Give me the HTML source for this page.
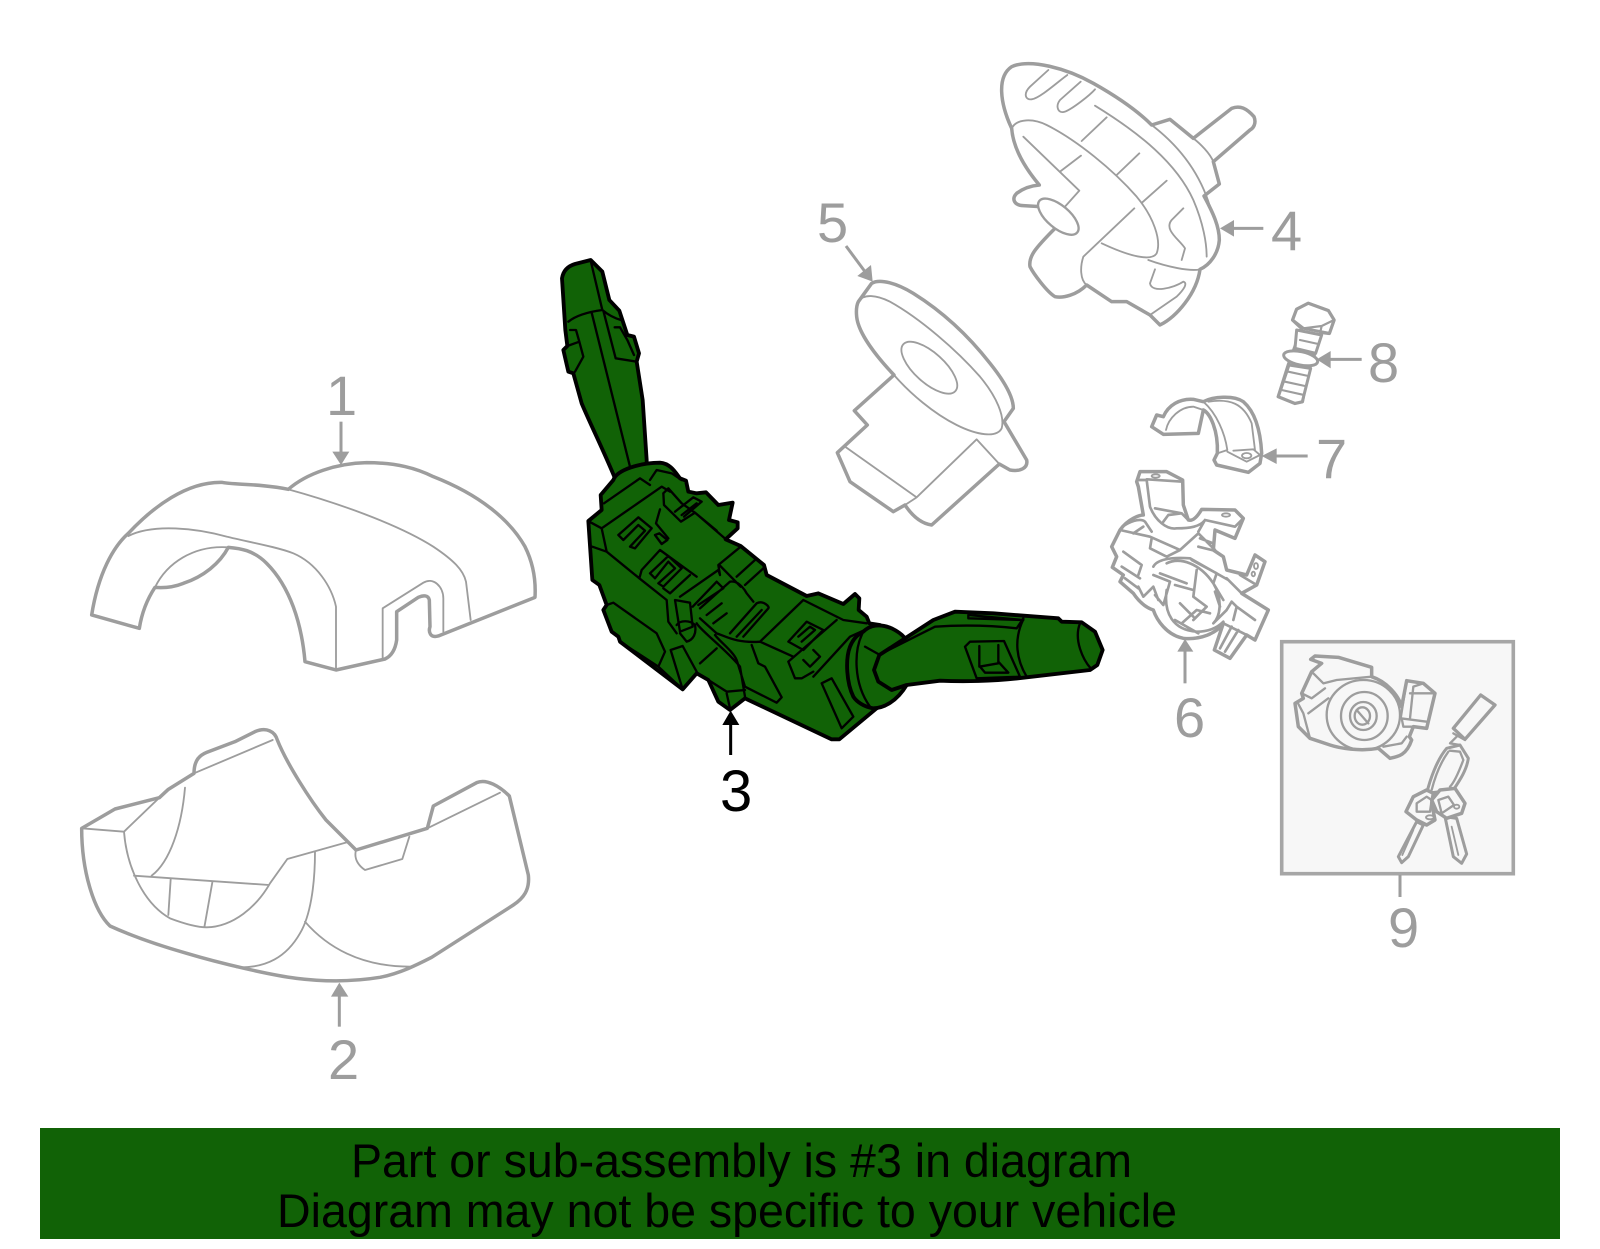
<!DOCTYPE html>
<html><head><meta charset="utf-8"><style>
html,body{margin:0;padding:0;background:#fff}
svg{display:block}
.g path,.g ellipse,.g polygon{stroke:#9d9d9d;fill:none;stroke-linejoin:round;stroke-linecap:round}
.g .o{stroke-width:10.5;fill:#fff}
.g .t{stroke-width:5.5}
.g .a{fill:#9d9d9d;stroke:none}
.g .l{stroke-width:9;stroke-linecap:butt}
.k path,.k ellipse,.k polygon{stroke:#000;fill:none;stroke-linejoin:round;stroke-linecap:round}
.k .o{stroke-width:11.5;fill:#116206}
.k .t{stroke-width:7}
text{font-family:"Liberation Sans",Arial,sans-serif}
.n{font-size:56px;fill:#9d9d9d}
</style></head><body>
<svg width="1600" height="1249" viewBox="0 0 1600 1249" xmlns="http://www.w3.org/2000/svg">
<rect width="1600" height="1249" fill="#fff"/>

<!-- 1 -->
<g class="g" transform="translate(80,360) scale(.33333)">
<path class="l" d="M783 185V280"/><polygon class="a" points="783,315 757,275 808,275"/>
<path class="o" d="M35 765C55 640 100 560 145 520C220 440 320 365 425 367C460 375 540 370 625 388C680 340 770 310 860 308C950 308 1010 325 1060 350C1200 405 1290 480 1335 560C1360 610 1368 660 1365 712L1075 828C1050 835 1045 815 1050 800L1048 720C1045 705 1030 705 1015 712L950 755L950 840C945 875 930 890 915 897L768 930L675 905C665 790 630 680 560 610C520 570 480 565 445 562C420 610 370 650 310 670C280 682 250 684 225 682C200 720 185 760 178 805Z"/>
<path class="t" d="M145 528C220 490 350 505 440 530C500 545 590 560 640 580C710 610 755 680 768 740L768 930M625 388C760 425 950 490 1060 560C1120 600 1150 630 1158 665L1172 780M225 682C260 610 340 555 445 562M908 895L908 745L1030 668C1060 650 1090 680 1090 715L1090 815"/>
</g>

<!-- 2 -->
<g class="g" transform="translate(70,720) scale(.33333)">
<path class="l" d="M808 920V825"/><polygon class="a" points="808,788 783,830 835,830"/>
<path class="o" d="M35 325L135 267L268 233L295 208L372 160C372 120 390 105 410 97L495 65L555 35C590 20 615 35 622 60C650 130 720 240 768 300L858 390L1072 325L1090 258L1220 188C1250 175 1290 200 1318 228L1375 465C1380 510 1360 535 1330 555L1085 712C1040 735 990 760 930 772C850 785 760 785 680 775C600 765 450 730 350 700C280 680 190 650 120 618C70 570 35 450 35 325Z"/>
<path class="t" d="M35 325L162 335L268 233M162 335C170 440 220 550 300 595C340 610 380 622 410 622C490 620 560 560 600 490L652 417L830 367M372 160L608 60M192 467L597 495M345 203C335 320 300 425 245 467M302 478L295 585M427 487L403 622M735 395C735 500 720 590 690 640C650 710 590 745 500 742M705 605C770 680 870 740 1020 740M858 390C850 420 870 440 885 450L997 417L1018 350M1072 325L1290 218"/>
</g>

<!-- 4 -->
<g class="g" transform="translate(980,40) scale(.33333)">
<path class="l" d="M850 565H755"/><polygon class="a" points="720,565 762,540 762,590"/>
<path class="o" d="M95 265C60 190 50 110 95 80C150 55 260 85 340 130C420 175 480 220 515 255L570 238L640 295L755 205C780 195 800 205 822 230C830 250 820 265 810 270L700 365L718 432L672 468C700 520 718 560 718 600C715 640 690 675 660 688C650 760 590 830 540 855L510 825L440 785L395 785L320 735C290 765 250 775 225 770C200 755 160 700 150 680C145 650 165 625 225 565L180 500L130 497C100 495 95 475 110 460C130 445 155 437 178 435C140 390 100 330 95 265Z"/>
<path class="t" d="M95 265C110 235 160 235 200 255C290 300 400 390 470 470C520 530 545 600 530 640C515 665 450 650 365 610M345 197C480 280 590 370 640 480C670 550 680 610 680 650M515 255C600 320 660 400 690 500M640 295C660 310 690 340 700 365M130 290L298 452L255 500M380 232L305 303M303 347L240 395M478 340L410 405M560 422L487 487M463 505L310 650C300 680 300 720 320 735M610 505L575 540C550 570 600 600 615 625L605 660M205 90L150 140C130 160 135 180 155 178C180 175 240 120 262 105M302 125L240 180C225 200 235 222 255 215C280 205 330 165 345 148M505 660C560 680 630 695 660 688M525 688L510 730C515 760 580 745 610 725C625 730 610 750 590 770L510 825"/>
<ellipse class="t" cx="235" cy="530" rx="74" ry="34" transform="rotate(40 235 530)" style="fill:#fff;stroke-width:7"/>
</g>

<!-- 5 -->
<g class="g" transform="translate(800,190) scale(.33333)">
<path class="l" d="M138 168L195 245"/><polygon class="a" points="218,275 172,258 213,225"/>
<path class="o" d="M175 335L215 280C240 265 290 280 340 310C420 360 500 430 570 520C610 570 640 620 640 655L612 695L680 810C685 835 660 845 630 840L598 822L395 1005C360 1000 335 975 315 945L280 965L150 875L112 788L202 705L163 662L282 555C230 500 175 430 170 380C168 360 170 345 175 335Z"/>
<path class="t" d="M175 335C190 310 230 315 270 335C360 385 470 480 540 560C590 620 615 680 605 715C590 745 530 735 470 705C400 670 330 610 282 555M135 770L350 922L530 748L598 822M315 945L350 922"/>
<ellipse class="t" cx="388" cy="533" rx="105" ry="45" transform="rotate(42 388 533)"/>
</g>

<!-- 7 and 8 -->
<g class="g" transform="translate(1140,290) scale(.33333)">
<path class="l" d="M665 208H565"/><polygon class="a" points="530,208 572,183 572,235"/>
<path class="l" d="M503 498H400"/><polygon class="a" points="365,498 410,475 410,522"/>
<path class="o" d="M458 90L470 58L505 40L565 62L582 90L568 130L545 127L525 190L505 230L487 335L465 340L415 320L445 225L465 170L485 115Z"/>
<ellipse class="o" cx="482" cy="205" rx="52" ry="20" transform="rotate(12 482 205)" style="fill:#fff;stroke-width:9"/>
<path class="o" style="stroke-width:9" d="M470 120L545 135L527 190L465 175ZM447 225L512 235L487 335L465 340L415 320Z"/>
<path class="o" style="stroke-width:9" d="M458 90L470 58L505 40L565 62L582 90L568 130L490 115Z"/>
<path class="t" style="stroke-width:6.5" d="M490 115L545 108L582 90M545 108L540 130M480 150L535 162M445 245L505 258M435 275L495 288M425 300L488 314"/>
<path class="o" d="M35 410L50 375L70 380C85 345 120 325 160 328L190 335C220 320 280 315 310 335C350 370 362 430 365 490L360 520L325 547L230 525L222 510L232 490C235 420 210 370 190 360L175 430L70 433Z"/>
<path class="t" d="M78 420C85 385 120 350 160 350L190 360M190 335C230 370 255 430 262 480L232 490M205 335C270 325 310 340 335 400L345 480M262 485L320 515L360 495L340 478L280 482"/>
<ellipse class="t" cx="320" cy="497" rx="14" ry="8"/>
</g>

<!-- 6 -->
<g class="g" transform="translate(1100,450) scale(.33333)">
<path class="l" d="M255 700V600"/><polygon class="a" points="255,567 232,605 280,605"/>
<path class="o" d="M110 95L120 65L200 65L248 90L250 165L265 210C280 215 295 195 305 178L405 180L430 205L405 265L345 240L340 300L370 320L380 360L440 375L465 315L495 335L470 405L425 430L505 480L465 570L440 555L390 625L343 600L370 520C350 550 300 570 250 565C200 555 170 510 160 480C130 470 110 445 100 430L60 395L70 375L37 352L50 320L35 290L60 240C85 205 120 195 130 195L115 110Z"/>
<path class="t" style="stroke-width:8" d="M115 90L140 90L150 170C165 210 200 240 230 235C270 235 300 230 315 210L405 230L430 205M140 88L248 95M165 175L245 190L265 210M190 215L205 195L245 190M315 210L295 245M60 240L150 260L240 300L295 250L345 300M75 225C100 210 125 205 135 215L155 245M100 250L130 230M155 265L150 295L200 320L240 300M160 350C170 330 210 320 270 325L385 390M200 420C190 490 220 540 290 545C330 545 355 530 370 515M70 305L125 345L115 375M65 350L120 385M75 385L115 415M115 410L130 440L160 410L175 450M180 370L260 400M160 375L210 395L190 465L165 435M245 520L290 480L330 490M345 425L360 470M225 405L280 420M290 360L280 440L320 470L280 510M240 460L280 500M225 510L295 550M275 330L350 370L340 400L370 450M340 520L380 480L395 455L410 470L400 510M370 520L440 555M360 595L395 530M375 605L415 540M300 265L340 280M295 290L335 300M420 375L470 405M380 385L425 430M200 340C240 320 300 340 340 400C370 450 360 500 340 520M410 470L465 510"/>
<ellipse class="t" cx="468" cy="348" rx="6" ry="9"/><ellipse class="t" cx="460" cy="372" rx="5" ry="7"/><ellipse class="t" cx="167" cy="78" rx="12" ry="5"/><ellipse class="t" cx="378" cy="195" rx="12" ry="5"/>
</g>

<!-- 9 -->
<rect x="1281.7" y="641.7" width="231.6" height="232" fill="#f7f7f7" stroke="#a6a6a6" stroke-width="3.6"/>
<path d="M1400 875V897" stroke="#9d9d9d" stroke-width="3" fill="none"/>
<g class="g" transform="translate(1270,630) scale(.33333)">
<path class="o" style="fill:#f7f7f7" d="M122 88L135 78L205 82L305 112L305 140C350 155 385 195 395 230L410 152L460 160L495 190L470 295L430 290L418 320L425 330C410 375 385 380 360 385L325 355C270 365 210 355 180 345L120 325L85 290L75 220L100 205L95 190L125 125L155 100Z"/>
<path class="t" style="stroke-width:7" d="M125 125L160 160L200 150L305 140M95 190L125 205L165 175M120 325L100 250L85 222M115 250L175 205M410 152L392 265L470 275M420 265L430 170L460 160M420 190L495 190M395 265L400 290L430 290M340 350L395 340L410 320"/>
<ellipse class="t" cx="280" cy="255" rx="110" ry="105" style="stroke-width:7"/><ellipse class="t" cx="283" cy="258" rx="70" ry="72" style="stroke-width:7"/><ellipse class="t" cx="280" cy="258" rx="40" ry="42" style="stroke-width:7"/><ellipse class="t" cx="277" cy="258" rx="23" ry="26" style="stroke-width:7"/>
<path class="t" style="stroke-width:7" d="M260 240L295 280"/>
<path class="o" style="fill:#f7f7f7;stroke-width:10" d="M550 295L632 195L675 225L585 328Z"/>
<path class="t" style="stroke-width:7" d="M560 320L540 340L570 345M550 310L585 330"/>
<path class="o" style="fill:#f7f7f7;stroke-width:9" d="M530 355L570 345L595 385C590 420 570 450 550 480L470 490C480 450 500 390 530 355Z"/>
<path class="t" style="stroke-width:7" d="M540 362L570 365L580 390C565 430 550 460 540 470M535 365C510 400 495 440 485 480"/>
<path class="o" style="fill:#f7f7f7;stroke-width:9" d="M440 575L385 680L395 698L415 680L460 585ZM525 560L550 680L575 700L590 672L560 565Z"/>
<path class="t" d="M430 600L397 675M545 590L565 675"/>
<path class="o" style="fill:#f7f7f7" d="M408 545L430 500L470 480L490 490L485 520L495 570L470 585L440 570Z"/>
<path class="o" style="fill:#f7f7f7" d="M485 510L510 480L555 475L585 520L575 550L530 565L500 545Z"/>
<path class="t" style="stroke-width:7" d="M440 520L470 500L485 510L480 545L440 545ZM505 510L535 500L552 525L515 550Z"/>
<ellipse class="t" cx="480" cy="562" rx="12" ry="6"/><ellipse class="t" cx="560" cy="530" rx="8" ry="6"/>
</g>

<!-- 3 main part -->
<g class="k" transform="translate(540,240) scale(.33333)">
<path class="o" d="M66 115C70 90 85 78 105 72L152 60L187 95L208 180L238 212L262 285L282 290L297 340L290 365L308 480L320 660L320 780L225 780L225 715C190 630 150 550 125 490L100 400L85 395L70 330L82 318L76 270Z"/>
<path class="t" d="M152 62L187 210M85 245C110 225 150 215 187 210C205 225 225 235 243 240M155 218L270 680M190 212L227 355L290 365M224 262L240 262L262 300L282 345M82 318L118 305L108 270L90 270M118 305L130 350L105 395"/>
</g>
<g class="k" transform="translate(580,460) scale(.33333)">
<path class="o" d="M100 60C110 30 180 8 240 8C270 10 285 35 300 55L318 62L325 95L350 100L378 97L415 135L458 128L447 180L473 187L473 205L437 238L482 258L552 315L560 345L680 408L715 400L790 432L825 402L838 415L836 450L860 470L868 490L900 495L900 735L890 745L778 838L755 838L495 715L450 750L415 725L385 660L350 640L308 688L120 545L115 530L95 515L70 450L80 435L58 375L37 360L25 183L65 150L62 105Z"/>
<path class="t" d="M28 185L65 205L80 275L37 260M65 205L245 80L270 95M72 130L180 55L210 75M210 60L230 30L275 40L305 60M250 100L265 85L305 130L345 158M250 100L252 135L303 185L345 158L410 212M285 155L340 112L365 125L312 170M305 165L350 130M345 158L438 238M240 148L228 190L265 235M115 225L175 172L215 205L165 265L150 260L195 212L175 195L130 240ZM225 225L238 220L262 240L245 252ZM80 275L178 355L185 330L240 270L350 350M210 340L265 288L305 325L250 380L235 370L285 325L265 305L225 355ZM250 385L270 400L330 345M178 355L260 420L265 485L290 520M80 435L100 428L230 520L255 575L235 620L120 545M235 620L308 688L272 570L308 558L350 635M300 410L415 330L420 345L415 315L482 260M285 420L330 428L338 500L300 515ZM290 495C300 480 330 480 345 495C350 520 340 540 320 545L300 520M338 440L410 365L430 385L355 435M360 445L450 365C480 360 500 400 500 400L520 425M380 465L425 430M400 490L440 460M360 475L410 520C440 530 470 550 540 545L640 590M450 520L530 430C550 420 570 440 565 445L490 530M470 530L545 450M540 545L670 420L790 480L860 490M515 555L535 610L555 620L605 712L590 728L495 680L470 600C460 575 420 545 405 525M360 610L410 565M385 660L440 695L495 690M440 700L450 745M350 490C360 510 440 570 480 620L495 710M625 605L770 480M625 605L645 655L665 655L700 635M670 600L690 620L720 590L700 570M700 650L810 530L855 510M725 670L755 655L820 770L785 805ZM625 545L680 485L730 510L670 570ZM655 530L690 500L705 510L665 545M470 350L525 300M495 375L550 325M418 315L482 380"/>
<path d="M452 885V790" style="stroke-width:9;stroke-linecap:butt"/><polygon points="452,752 427,795 478,795" style="fill:#000;stroke:none"/>
</g>
<g class="k" transform="translate(820,560) scale(.33333)">
<path class="o" d="M130 215C150 195 180 190 215 205C235 215 248 225 255 235L260 375C230 425 190 445 160 445C130 440 110 425 100 410C80 370 75 300 90 260C100 235 115 222 130 215Z"/>
<path class="t" d="M130 215C100 270 100 370 150 440M135 260L180 285"/>
<path class="o" d="M178 285L340 180L405 155L520 160L715 175L725 185L785 187L825 215L848 270L832 315L810 330L620 352C520 365 420 365 360 362L260 375L215 390L175 365L162 330Z"/>
<path class="t" d="M190 278L345 200C420 195 500 195 590 205M445 165L610 180L445 175ZM590 205L610 175M610 178C580 240 590 300 620 350M780 190C760 240 790 300 812 325M435 260L450 245L552 243L600 350L470 355ZM478 258L478 320L535 310L535 255M535 305L565 338L495 338L480 320"/>
</g>

<!-- labels -->
<text class="n" x="326" y="415">1</text>
<text class="n" x="328" y="1079">2</text>
<text x="720" y="811" font-size="58" fill="#000">3</text>
<text class="n" x="1271" y="250">4</text>
<text class="n" x="817" y="242">5</text>
<text class="n" x="1174" y="737">6</text>
<text class="n" x="1316" y="478">7</text>
<text class="n" x="1368" y="382">8</text>
<text class="n" x="1388" y="947">9</text>

<!-- banner -->
<rect x="40" y="1128" width="1520" height="111" fill="#116206"/>
<text x="351" y="1177" font-size="47" fill="#000" textLength="781" lengthAdjust="spacingAndGlyphs">Part or sub-assembly is #3 in diagram</text>
<text x="277" y="1227" font-size="47" fill="#000" textLength="900" lengthAdjust="spacingAndGlyphs">Diagram may not be specific to your vehicle</text>
</svg>
</body></html>
